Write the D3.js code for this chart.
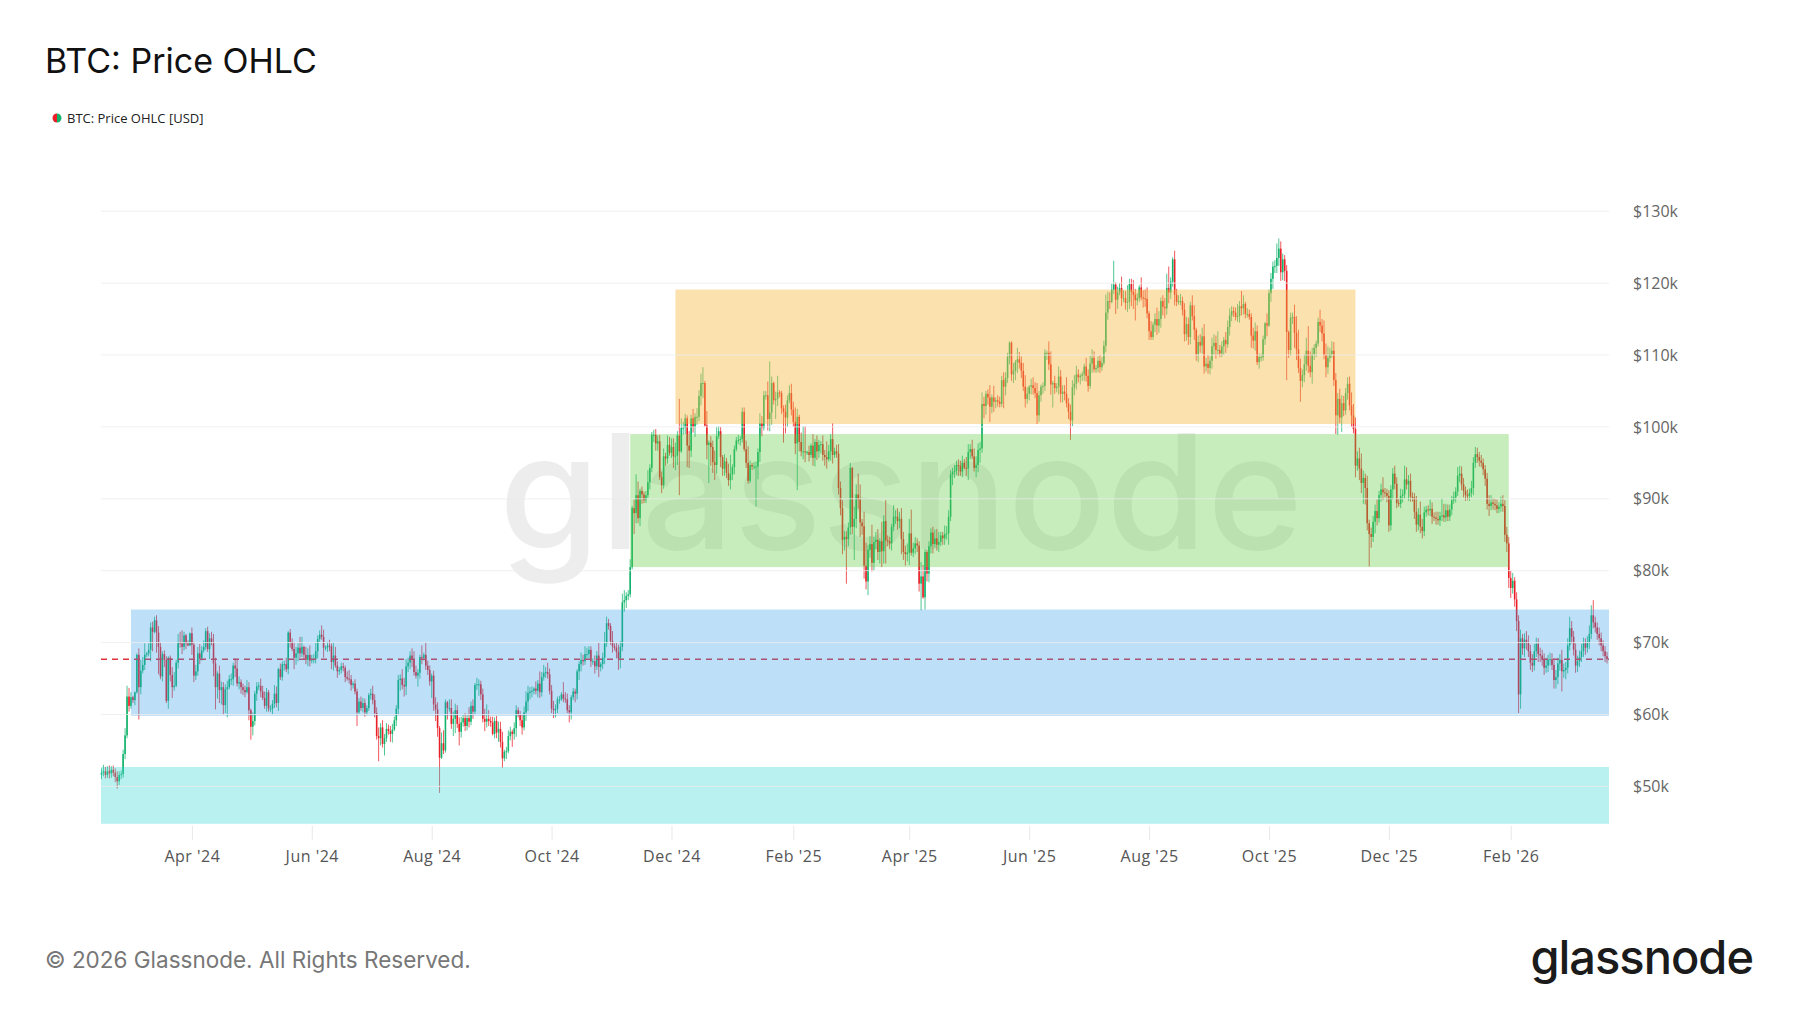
<!DOCTYPE html>
<html><head><meta charset="utf-8">
<script src="https://cdn.jsdelivr.net/npm/d3@7/dist/d3.min.js"></script>
<style>body{margin:0;background:#fff}svg{display:block}</style>
</head><body>
<svg id="chart" width="1800" height="1013"></svg>
<script>
// ---- DATA (prices in units of $100; daily candles, open = previous close) ----
const dataStart = "2024-02-15";
const firstOpen = 516;

const close2024 = [
519,521,516,521,518,523,519,513,507,516,517,545,571,625,612,
624,620,631,683,638,661,669,683,685,690,721,715,731,714,694,653,684,676,619,679,655,638,640,672,700,699,694,710,699,696,713,
697,654,660,685,678,689,694,716,691,706,700,671,638,657,634,638,613,635,638,649,649,668,664,643,645,638,634,631,638,606,
583,591,629,639,640,632,623,612,631,608,608,615,629,616,663,652,670,670,663,714,701,691,679,685,693,685,694,683,676,683,675,
677,677,688,705,711,708,693,693,696,695,673,682,668,660,662,667,665,652,650,649,641,643,632,603,618,609,616,603,609,627,
629,620,602,570,567,582,559,567,580,577,573,579,592,608,648,650,641,639,667,672,682,676,659,654,658,680,679,683,668,662,646,
654,614,607,581,540,560,550,617,609,609,587,594,606,587,576,589,595,584,595,590,612,604,641,642,642,628,594,590,594,591,589,
573,591,575,580,562,539,548,549,570,576,573,581,606,600,592,582,603,618,630,632,633,636,633,643,631,652,658,659,656,633,
608,606,608,621,621,628,622,621,606,603,624,632,629,660,670,676,674,684,684,690,674,674,667,682,666,670,679,699,727,723,702,
695,693,687,678,694,756,759,765,767,805,887,880,905,873,911,906,898,905,923,943,989,989,977,980,930,919,959,956,975,964,
972,959,960,988,966,999,999,1012,974,967,1012,1000,1014,1014,1043,1061,1061,1002,975,978,972,951,947,987,994,958,942,952,936,926,934];

const close2025 = [
944,969,981,982,983,1021,969,950,925,947,945,945,945,965,1005,999,1044,1044,1011,1020,1061,1037,1039,1048,1047,1026,1021,1013,1037,1047,1024,
1007,977,1014,979,966,966,965,965,961,974,957,979,966,975,976,961,958,955,966,983,961,966,963,915,887,843,847,844,
860,943,861,872,906,899,867,862,807,785,829,837,811,840,843,826,841,827,869,842,841,838,861,875,875,869,872,844,826,823,825,
852,825,831,838,835,782,792,763,826,796,834,853,837,845,836,840,849,845,851,852,875,934,937,939,947,946,938,950,943,942,
965,969,959,943,947,968,970,1032,1029,1046,1041,1028,1041,1035,1037,1035,1032,1065,1056,1068,1097,1117,1073,1078,1090,1094,1089,1078,1056,1039,1046,
1056,1058,1054,1047,1016,1044,1056,1057,1103,1103,1087,1059,1061,1054,1056,1070,1046,1049,1046,1033,1021,1009,1055,1060,1073,1069,1071,1073,1084,1071,
1057,1088,1096,1080,1082,1092,1083,1089,1113,1159,1175,1174,1191,1198,1177,1187,1193,1179,1179,1173,1174,1199,1188,1184,1176,1179,1194,1180,1179,1178,1158,
1133,1125,1142,1150,1141,1150,1175,1167,1165,1193,1187,1202,1233,1184,1174,1175,1175,1163,1129,1143,1125,1169,1154,1135,1101,1118,1113,1126,1084,1088,1082,
1092,1112,1117,1107,1107,1102,1112,1121,1115,1139,1155,1161,1159,1153,1154,1168,1165,1171,1157,1157,1153,1127,1120,1133,1090,1097,1097,1122,1144,1141,
1186,1206,1223,1224,1235,1248,1215,1233,1217,1132,1107,1152,1153,1131,1108,1082,1064,1072,1087,1106,1085,1076,1101,1110,1116,1146,1141,1130,1100,1083,1096,
1101,1106,1065,1016,1039,1013,1033,1023,1047,1060,1030,1016,997,946,956,942,922,929,915,866,851,847,868,883,873,905,913,909,908,904,
863,913,935,921,894,893,904,906,927,920,925,903,902,882,864,878,861,855,881,885,884,886,875,874,872,870,876,877,874,884,875];

const close2026 = [
885,898,902,910,932,935,920,911,905,904,908,915,950,962,958,953,950,941,928,893,890,895,893,891,886,889,893,890,850,838,790,
776,786,760,730,628,706,692,704,700,688,672,668,688,698,684,682,676,665,668,676,677,669,648,652,671,676,660,662,
665,696,720,708,690,668,674,680,688,699,693,700,712,738,728,721,712,706,696,688,681,677];

// upper wick above the body, lower wick below the body ($100 units)
const wickUp2024 = [
6,9,6,7,8,5,6,6,8,5,5,6,10,15,12,
7,2,1,2,9,15,11,16,2,9,7,8,5,7,9,6,4,5,5,2,3,11,19,4,12,15,18,5,2,4,1,
8,4,9,9,13,6,9,4,6,7,9,12,8,3,11,8,7,7,9,6,8,4,10,13,8,4,5,6,10,7,
2,12,4,6,5,10,8,9,6,3,5,5,12,10,2,8,4,5,9,2,5,5,9,9,6,15,14,2,11,9,13,
6,7,12,5,6,13,10,3,5,8,4,18,12,6,4,5,5,3,8,12,6,3,6,4,5,7,7,6,4,3,
7,11,8,8,12,6,10,6,8,6,7,8,5,5,7,6,13,10,10,7,6,10,12,9,5,3,16,3,17,7,6,
3,7,10,10,3,15,18,4,2,12,12,10,9,7,9,8,4,7,4,15,6,9,3,9,7,5,8,14,20,12,6,
8,5,7,10,10,14,3,6,8,7,3,8,7,4,5,8,8,14,10,6,6,2,10,5,17,7,11,7,13,8,
8,11,6,4,5,3,17,9,8,7,3,5,4,3,4,10,7,11,9,5,5,4,8,6,18,3,7,16,9,6,4,
14,4,7,10,8,12,14,5,6,11,3,12,29,19,3,6,4,6,17,5,4,7,8,8,9,8,11,5,13,11,
12,12,18,6,51,13,8,6,4,20,5,13,5,12,8,13,22,3,20,3,9,9,16,13,7,6,3,10,5,13,27];

const wickUp2025 = [
4,5,5,7,4,6,6,12,23,6,3,6,7,5,14,10,6,6,19,71,9,2,10,23,3,3,4,10,7,11,13,
11,20,11,3,13,35,35,2,9,3,16,4,9,7,4,12,7,22,9,7,22,5,9,13,9,11,8,8,
7,7,1,17,14,29,21,5,20,32,7,11,27,7,11,15,4,27,8,29,7,6,4,16,9,12,10,15,10,9,13,
20,33,8,9,7,6,20,16,4,3,7,6,8,12,13,14,5,5,12,10,9,6,6,8,6,8,7,10,5,15,
11,7,13,11,12,9,9,16,10,4,6,17,4,16,4,7,7,6,11,8,6,2,2,11,3,16,10,9,11,16,9,
2,9,11,8,14,6,3,5,5,3,16,18,3,10,5,14,9,9,9,23,7,10,10,12,12,7,3,4,4,12,
9,11,12,9,4,6,8,8,7,25,13,12,8,33,3,8,7,16,11,10,23,7,7,16,8,7,3,14,10,12,16,
3,14,4,8,16,11,5,8,12,20,30,6,3,12,8,8,10,6,9,10,9,5,14,15,3,9,11,12,17,8,12,
6,12,12,10,26,7,7,4,11,9,10,7,6,7,17,7,21,12,3,8,6,5,11,12,8,5,5,5,2,14,
5,8,7,8,20,14,10,8,6,8,2,7,6,17,23,27,13,8,14,18,34,20,9,5,4,6,17,9,18,16,16,
9,13,12,10,8,14,11,10,7,9,10,18,16,16,10,15,21,10,6,17,5,9,8,9,16,6,8,17,6,6,
8,6,8,11,9,6,10,7,19,17,8,10,6,6,22,9,18,11,8,5,6,13,9,6,8,10,6,24,16,9,8];

const wickUp2026 = [
7,6,8,6,12,11,10,9,6,8,6,10,8,10,9,7,8,6,6,8,12,10,6,7,8,6,10,12,8,11,9,
10,11,5,10,8,12,6,9,12,10,9,12,10,9,8,9,8,9,11,7,9,8,9,10,8,8,14,9,
8,10,16,10,8,9,8,9,10,8,7,9,12,14,21,8,7,9,8,7,7,6];

const wickDown2024 = [
6,5,5,4,7,6,5,7,10,5,6,5,7,4,8,
4,4,7,2,45,10,4,7,3,4,16,27,2,28,38,4,7,10,3,11,9,15,5,2,8,6,10,5,8,1,1,
14,9,6,6,8,3,3,4,4,14,4,18,31,16,18,20,13,11,39,3,8,9,12,4,8,9,7,7,2,14,
18,12,6,10,5,8,3,4,8,4,5,8,6,6,11,4,5,9,4,7,8,3,16,10,11,6,5,7,6,9,8,
4,6,6,10,4,4,14,4,6,7,10,12,3,9,5,5,5,7,3,6,8,5,4,19,2,4,6,6,4,4,
6,6,6,5,32,10,5,16,5,5,11,12,2,8,8,15,6,14,12,8,9,10,5,4,15,8,9,4,6,7,6,
23,9,16,12,49,2,5,3,16,5,7,17,20,6,19,8,6,7,6,8,5,10,4,7,16,8,5,13,8,7,6,
2,6,8,13,8,13,4,10,3,6,18,8,12,4,8,10,4,12,13,9,8,5,5,9,8,6,5,7,6,5,
6,11,10,6,6,2,5,5,4,14,10,4,12,8,12,10,6,5,6,6,8,5,10,5,14,6,7,9,5,5,5,
9,4,9,16,14,6,13,11,6,4,3,29,14,7,11,13,4,4,4,10,6,10,10,10,4,11,5,10,7,4,
7,16,19,13,61,2,10,9,30,24,9,8,14,11,6,13,21,2,20,53,26,15,21,12,4,14,10,10,7,8,13];

const wickDown2025 = [
8,10,3,5,8,5,3,7,4,3,5,4,56,18,14,12,4,6,16,17,17,6,26,10,6,8,43,22,13,4,8,
7,15,65,13,7,11,14,4,9,4,11,12,12,9,12,8,12,13,3,13,12,4,6,9,10,20,15,62,
10,10,10,46,13,13,20,12,18,11,19,11,12,11,10,11,16,22,17,32,7,8,10,6,10,12,10,21,11,16,10,
17,4,6,8,9,11,37,2,17,11,12,10,13,5,8,10,6,9,9,8,16,6,15,8,6,14,6,8,2,10,
16,10,4,5,13,10,18,6,17,12,10,21,9,14,9,7,5,4,30,12,7,10,9,12,13,15,8,10,6,12,7,
9,11,9,7,12,9,9,10,7,10,8,14,32,8,6,11,12,12,9,6,10,27,8,11,8,7,10,7,9,8,
8,4,13,4,5,6,8,5,3,9,10,10,2,6,20,13,4,11,6,10,13,10,20,20,28,7,5,4,13,11,7,
12,4,4,10,13,10,12,12,14,9,15,9,7,15,6,4,6,8,10,9,11,10,6,14,9,11,10,11,10,7,8,
9,11,12,12,7,5,5,12,12,5,12,8,6,5,7,9,10,9,6,5,4,17,11,14,4,9,6,5,8,15,
2,12,14,9,10,11,12,11,14,67,11,8,9,21,15,7,29,9,10,9,10,7,16,8,13,4,9,11,6,14,9,
6,5,8,26,27,8,20,8,6,9,7,16,6,16,7,16,14,29,23,10,45,15,7,16,10,6,9,11,6,9,
9,7,14,8,7,4,6,9,6,7,23,7,6,10,10,8,9,10,7,6,7,8,10,5,8,6,8,7,6,6,6];

const wickDown2026 = [
6,8,5,7,6,9,8,9,8,6,7,6,10,7,8,8,6,8,10,8,14,6,8,7,6,6,7,8,10,12,14,
14,8,10,14,26,20,9,12,10,8,10,9,7,8,11,9,8,10,7,9,8,7,12,12,10,10,28,9,
13,8,7,9,8,10,9,8,7,8,10,7,9,7,8,7,8,10,8,7,8,6];

const yTicks = [500,600,700,800,900,1000,1100,1200,1300];
const xTickDates = ["2024-04-01","2024-06-01","2024-08-01","2024-10-01","2024-12-01","2025-02-01",
                    "2025-04-01","2025-06-01","2025-08-01","2025-10-01","2025-12-01","2026-02-01"];
const xTickLabels = ["Apr '24","Jun '24","Aug '24","Oct '24","Dec '24","Feb '25",
                     "Apr '25","Jun '25","Aug '25","Oct '25","Dec '25","Feb '26"];

// price zones drawn on the chart
const bandNames = ["cyan","blue","green","orange"];
const bandStart = ["2024-02-14T18:00:00Z","2024-03-01T00:00:00Z","2024-11-10T00:00:00Z","2024-12-03T00:00:00Z"];
const bandEnd   = ["2026-03-23T00:00:00Z","2026-03-23T00:00:00Z","2026-01-31T00:00:00Z","2025-11-14T00:00:00Z"];
const bandLow   = [448,598,805,1004];
const bandHigh  = [527,746,990,1191];
const refPrice = 677;

// ---- CHART ----
const svg = d3.select("#chart");
const L = 101, R = 1609, B = 826;
const x = d3.scaleUtc()
  .domain([new Date("2024-02-14T18:00:00Z"), new Date("2026-03-23T00:00:00Z")])
  .range([L, R]);
const y = d3.scaleLinear().domain([500, 1300]).range([786.4, 211.2]);

const closes = close2024.concat(close2025, close2026);
const ups = wickUp2024.concat(wickUp2025, wickUp2026);
const dns = wickDown2024.concat(wickDown2025, wickDown2026);
const t0 = Date.parse(dataStart + "T00:00:00Z");
const candles = closes.map((c, i) => {
  const o = i ? closes[i - 1] : firstOpen;
  return { date: new Date(t0 + i * 864e5), o, c,
           h: Math.max(o, c) + (ups[i] || 0), l: Math.min(o, c) - (dns[i] || 0) };
});

// watermark
svg.append("text")
  .attr("x", 901).attr("y", 549)
  .attr("text-anchor", "middle")
  .attr("font-family", "Inter, 'Open Sans', sans-serif")
  .attr("font-weight", 500)
  .attr("font-size", 160)
  .attr("textLength", 804).attr("lengthAdjust", "spacingAndGlyphs")
  .attr("fill", "#000").attr("fill-opacity", 0.07)
  .text("glassnode");

// candles
const UP = "#12b36c", DOWN = "#ea1f27";
const step = x(new Date(t0 + 864e5)) - x(new Date(t0));
const bw = Math.max(1.2, step * 0.8);
const cg = svg.append("g");
cg.selectAll("line.wick").data(candles).join("line")
  .attr("class", "wick")
  .attr("x1", d => x(d.date)).attr("x2", d => x(d.date))
  .attr("y1", d => y(d.h)).attr("y2", d => y(d.l))
  .attr("stroke", d => d.c >= d.o ? UP : DOWN)
  .attr("stroke-width", 1).attr("stroke-opacity", 0.75);
cg.selectAll("rect.body").data(candles).join("rect")
  .attr("class", "body")
  .attr("x", d => x(d.date) - bw / 2).attr("width", bw)
  .attr("y", d => y(Math.max(d.o, d.c)))
  .attr("height", d => Math.max(1, Math.abs(y(d.o) - y(d.c))))
  .attr("fill", d => d.c >= d.o ? UP : DOWN);

// reference price dashed line
svg.append("line")
  .attr("x1", L).attr("x2", R).attr("y1", y(refPrice)).attr("y2", y(refPrice))
  .attr("stroke", "#e2343f").attr("stroke-width", 1.5).attr("stroke-dasharray", "6,5");

// zones (semi-transparent overlays)
const bandFill = {cyan: "#37d4d4", blue: "#2a9be8", green: "#5ccc3d", orange: "#f3b73c"};
const bandAlpha = {cyan: 0.35, blue: 0.31, green: 0.35, orange: 0.42};
const bands = bandNames.map((n, i) => ({n, s: new Date(bandStart[i]), e: new Date(bandEnd[i]), lo: bandLow[i], hi: bandHigh[i]}));
svg.append("g").selectAll("rect").data(bands).join("rect")
  .attr("x", d => x(d.s)).attr("width", d => x(d.e) - x(d.s))
  .attr("y", d => Math.min(y(d.hi), B)).attr("height", d => Math.min(y(d.lo), B) - y(d.hi))
  .attr("fill", d => bandFill[d.n]).attr("fill-opacity", d => bandAlpha[d.n]);

// gridlines
svg.append("g").selectAll("line").data(yTicks).join("line")
  .attr("x1", L).attr("x2", R).attr("y1", d => y(d)).attr("y2", d => y(d))
  .attr("stroke", "#ececec").attr("stroke-opacity", 0.8).attr("stroke-width", 1);

// y axis (right)
const yAxis = svg.append("g").attr("transform", `translate(1624,0)`)
  .call(d3.axisRight(y).tickValues(yTicks).tickSize(0).tickPadding(9).tickFormat(v => `$${v / 10}k`));
yAxis.select(".domain").remove();
yAxis.selectAll("text").attr("font-family", "'Open Sans', sans-serif").attr("font-size", 16).attr("fill", "#666");

// x axis
const xAxis = svg.append("g").attr("transform", `translate(0,${B})`)
  .call(d3.axisBottom(x).tickValues(xTickDates.map(d => new Date(d + "T00:00:00Z")))
    .tickSize(14).tickPadding(10.5).tickFormat((d, i) => xTickLabels[i]));
xAxis.select(".domain").remove();
xAxis.selectAll(".tick line").attr("stroke", "#e8e8e8");
xAxis.selectAll("text").attr("font-family", "'Open Sans', sans-serif").attr("font-size", 16)
  .attr("letter-spacing", 0.5).attr("fill", "#555");

// title
svg.append("text").attr("x", 45).attr("y", 73)
  .attr("font-family", "Inter, sans-serif").attr("font-size", 34).attr("fill", "#111")
  .text("BTC: Price OHLC");

// legend
const lg = svg.append("g").attr("transform", "translate(57,118)");
lg.append("path").attr("d", d3.arc()({innerRadius: 0, outerRadius: 4.5, startAngle: Math.PI, endAngle: 2 * Math.PI})).attr("fill", DOWN);
lg.append("path").attr("d", d3.arc()({innerRadius: 0, outerRadius: 4.5, startAngle: 0, endAngle: Math.PI})).attr("fill", UP);
lg.append("text").attr("x", 10).attr("y", 0).attr("dy", "0.35em")
  .attr("font-family", "'Open Sans', sans-serif").attr("font-size", 13).attr("fill", "#222")
  .text("BTC: Price OHLC [USD]");

// footer
svg.append("text").attr("x", 45).attr("y", 960).attr("dy", "0.35em")
  .attr("font-family", "Inter, sans-serif").attr("font-size", 22.5).attr("fill", "#777")
  .text("© 2026 Glassnode. All Rights Reserved.");
svg.append("text").attr("x", 1753).attr("y", 974).attr("text-anchor", "end")
  .attr("font-family", "Inter, sans-serif").attr("font-weight", 500).attr("font-size", 47)
  .attr("letter-spacing", -1).attr("fill", "#1b1b1b")
  .text("glassnode");
</script>
</body></html>
